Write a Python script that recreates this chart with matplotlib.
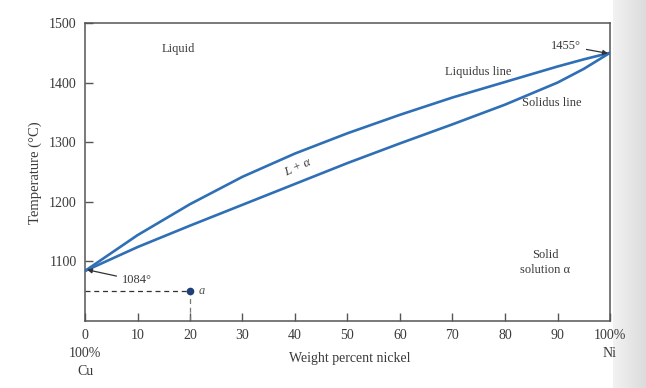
import matplotlib
matplotlib.use("Agg")
import matplotlib.pyplot as plt
import numpy as np

# ---- data ----
liq_x = [0, 10, 20, 30, 40, 50, 60, 70, 80, 90, 95, 100]
liq_T = [1084, 1144, 1196, 1242, 1281, 1315, 1346, 1375, 1401, 1427, 1439, 1450]
sol_x = [0, 10, 20, 30, 40, 50, 60, 70, 80, 90, 95, 100]
sol_T = [1084, 1124, 1160, 1195, 1230, 1265, 1298, 1330, 1363, 1400, 1423, 1450]
point_a = (20, 1050)
xticks = [0, 10, 20, 30, 40, 50, 60, 70, 80, 90, 100]
xticklabels = ["0", "10", "20", "30", "40", "50", "60", "70", "80", "90", "100%\nNi"]
yticks = [1100, 1200, 1300, 1400, 1500]

plt.rcParams['font.family'] = ['Liberation Serif', 'DejaVu Serif']
txt = '#3a3a3a'
blue = '#2f6fb6'

fig = plt.figure(figsize=(6.46, 3.88), dpi=100)

# scan shading at the right edge
bg = fig.add_axes([613/646, 0, 33/646, 1], zorder=-5)
grad = np.linspace(0.0, 1.0, 50)[None, :]
bg.imshow(grad, aspect='auto', cmap=matplotlib.colors.LinearSegmentedColormap.from_list(
    'g', ['#f2f2f2', '#dcdcdc']), extent=[0, 1, 0, 1])
bg.axis('off')

ax = fig.add_axes([85/646, 1 - 321/388, 525/646, (321 - 23)/388])
ax.set_xlim(0, 100)
ax.set_ylim(1000, 1500)

ax.plot(liq_x, liq_T, color=blue, lw=1.9, solid_capstyle='round', solid_joinstyle='round', zorder=3)
ax.plot(sol_x, sol_T, color=blue, lw=1.9, solid_capstyle='round', solid_joinstyle='round', zorder=3)

# point a with dashed guides
ax.plot([0, point_a[0]], [point_a[1], point_a[1]], ls=(0, (4, 3)), color='#333333', lw=0.9)
ax.plot([point_a[0], point_a[0]], [1000, point_a[1]], ls=(0, (4, 3)), color='#777777', lw=0.9)
ax.plot(*point_a, 'o', color='#1f3f7a', ms=4.5, zorder=4)
ax.text(21.6, 1050, 'a', style='italic', fontsize=9, color='#555555', va='center', ha='left')

# spines & ticks
for s in ax.spines.values():
    s.set_color('#555555')
    s.set_linewidth(1.1)
ax.set_xticks(xticks)
ax.set_xticklabels(xticklabels, fontsize=10, color=txt, linespacing=1.45)
ax.set_yticks(yticks)
ax.set_yticklabels([str(v) for v in yticks], fontsize=10, color=txt)
ax.tick_params(direction='in', length=6, width=1, color='#555555', pad=6)

ax.text(0, -0.088, "100%\nCu", transform=ax.get_xaxis_transform(), ha='center', va='top',
        fontsize=10, color=txt, linespacing=1.45)
ax.text(50.5, -0.105, "Weight percent nickel", transform=ax.get_xaxis_transform(),
        ha='center', va='top', fontsize=10, color=txt)
fig.text(35/646, 1 - 173/388, "Temperature (°C)", rotation=90, ha='center', va='center',
         fontsize=10.5, color=txt)

# region labels
ax.text(17.7, 1457, "Liquid", fontsize=9, color=txt, ha='center', va='center')
ax.text(74.9, 1417, "Liquidus line", fontsize=9, color=txt, ha='center', va='center')
ax.text(89.0, 1365, "Solidus line", fontsize=9, color=txt, ha='center', va='center')
ax.text(40.6, 1257, "L + α", fontsize=9, color=txt, ha='center', va='center',
        rotation=24, style='italic')
ax.text(87.6, 1098, "Solid\nsolution α", fontsize=9, color=txt, ha='center', va='center',
        linespacing=1.3)

# temperature annotations
ax.annotate("1084°", xy=(0.4, 1086), xytext=(9.9, 1068), fontsize=9, color=txt,
            ha='center', va='center',
            arrowprops=dict(arrowstyle='-|>', color='#333333', lw=0.9,
                            mutation_scale=7, shrinkA=2, shrinkB=0))
ax.annotate("1455°", xy=(99.6, 1449), xytext=(91.6, 1462), fontsize=9, color=txt,
            ha='center', va='center',
            arrowprops=dict(arrowstyle='-|>', color='#333333', lw=0.9,
                            mutation_scale=7, shrinkA=2, shrinkB=0))

fig.savefig("out.png", dpi=100)
